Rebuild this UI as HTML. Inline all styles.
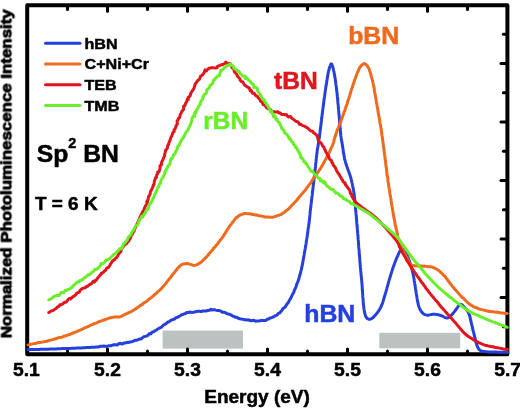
<!DOCTYPE html>
<html><head><meta charset="utf-8"><title>Photoluminescence spectra</title>
<style>
html,body{margin:0;padding:0;background:#fff;}
body{width:520px;height:408px;overflow:hidden;}
svg{display:block;}
text{font-family:"Liberation Sans",sans-serif;font-weight:bold;fill:#000;stroke:#000;stroke-width:0.5px;stroke-linejoin:round;}
</style></head><body>
<svg width="520" height="408" viewBox="0 0 520 408">
<defs><filter id="soft" x="-2%" y="-2%" width="104%" height="104%"><feGaussianBlur stdDeviation="0.4"/></filter></defs>
<rect x="0" y="0" width="520" height="408" fill="#fff"/>
<g filter="url(#soft)">
<rect x="162.6" y="330.6" width="80.4" height="18" fill="#bcc2c2"/>
<rect x="379.3" y="332.8" width="80.9" height="15.5" fill="#bcc2c2"/>
<rect x="27.2" y="5.2" width="480.2" height="349.1" fill="none" stroke="#000" stroke-width="4" stroke-linejoin="round"/>
<g stroke="#000" stroke-width="3" stroke-linecap="round"><line x1="27.5" y1="5.2" x2="27.5" y2="11.2"/><line x1="27.5" y1="354.3" x2="27.5" y2="349.1"/><line x1="107.5" y1="5.2" x2="107.5" y2="11.2"/><line x1="107.5" y1="354.3" x2="107.5" y2="349.1"/><line x1="187.5" y1="5.2" x2="187.5" y2="11.2"/><line x1="187.5" y1="354.3" x2="187.5" y2="349.1"/><line x1="267.5" y1="5.2" x2="267.5" y2="11.2"/><line x1="267.5" y1="354.3" x2="267.5" y2="349.1"/><line x1="347.5" y1="5.2" x2="347.5" y2="11.2"/><line x1="347.5" y1="354.3" x2="347.5" y2="349.1"/><line x1="427.5" y1="5.2" x2="427.5" y2="11.2"/><line x1="427.5" y1="354.3" x2="427.5" y2="349.1"/><line x1="507.5" y1="5.2" x2="507.5" y2="11.2"/><line x1="507.5" y1="354.3" x2="507.5" y2="349.1"/><line x1="67.5" y1="5.2" x2="67.5" y2="9.4"/><line x1="67.5" y1="354.3" x2="67.5" y2="350.90000000000003"/><line x1="147.5" y1="5.2" x2="147.5" y2="9.4"/><line x1="147.5" y1="354.3" x2="147.5" y2="350.90000000000003"/><line x1="227.5" y1="5.2" x2="227.5" y2="9.4"/><line x1="227.5" y1="354.3" x2="227.5" y2="350.90000000000003"/><line x1="307.5" y1="5.2" x2="307.5" y2="9.4"/><line x1="307.5" y1="354.3" x2="307.5" y2="350.90000000000003"/><line x1="387.5" y1="5.2" x2="387.5" y2="9.4"/><line x1="387.5" y1="354.3" x2="387.5" y2="350.90000000000003"/><line x1="467.5" y1="5.2" x2="467.5" y2="9.4"/><line x1="467.5" y1="354.3" x2="467.5" y2="350.90000000000003"/><line x1="507.4" y1="63.5" x2="501.0" y2="63.5"/><line x1="507.4" y1="122" x2="501.0" y2="122"/><line x1="507.4" y1="180.5" x2="501.0" y2="180.5"/><line x1="507.4" y1="239" x2="501.0" y2="239"/><line x1="507.4" y1="297.5" x2="501.0" y2="297.5"/><line x1="507.4" y1="34.2" x2="503.4" y2="34.2"/><line x1="507.4" y1="92.8" x2="503.4" y2="92.8"/><line x1="507.4" y1="151.2" x2="503.4" y2="151.2"/><line x1="507.4" y1="209.8" x2="503.4" y2="209.8"/><line x1="507.4" y1="268.2" x2="503.4" y2="268.2"/><line x1="507.4" y1="326.8" x2="503.4" y2="326.8"/></g>
<g>
<path d="M28.0 349.6L28.9 349.5L29.9 349.6L31.2 349.5L32.6 349.5L34.1 349.4L35.7 349.4L37.4 349.4L39.2 349.5L41.0 349.3L42.9 349.3L44.7 349.2L46.5 349.2L48.3 349.2L50.0 349.1L51.5 349.1L53.0 349.1L54.5 349.0L56.1 348.9L57.6 348.8L59.2 348.8L60.7 348.8L62.3 348.6L63.9 348.6L65.5 348.5L67.1 348.6L68.7 348.4L70.2 348.4L71.9 348.3L73.4 348.2L75.0 348.3L76.6 348.1L78.2 348.1L79.8 348.0L81.5 347.9L83.2 347.8L85.0 347.7L86.6 347.6L88.3 347.6L89.9 347.4L91.5 347.3L93.1 347.2L94.6 347.2L96.1 347.1L97.5 347.0L98.8 346.9L100.1 346.3L102.3 346.3L104.0 346.1L105.2 346.2L107.1 346.4L107.9 345.9L109.1 345.8L110.7 345.8L112.3 345.2L113.8 344.8L115.6 344.8L117.2 344.9L118.9 343.8L120.5 343.3L122.1 344.1L123.8 343.1L125.5 342.9L127.1 342.3L128.8 342.4L130.0 341.9L131.9 341.7L133.5 341.1L135.0 340.2L136.5 340.3L138.2 339.6L139.4 339.1L141.3 338.9L142.4 337.8L143.6 336.8L145.3 336.4L146.8 336.0L148.2 335.2L149.3 333.6L150.9 333.9L152.3 331.9L153.7 331.8L154.8 330.8L156.3 330.1L157.9 328.9L159.5 327.9L160.4 327.7L161.8 326.9L163.3 325.1L164.7 324.5L166.1 323.6L167.7 322.1L168.8 321.9L170.7 320.5L171.7 319.9L173.1 319.5L174.7 318.9L175.9 317.7L177.6 317.2L178.7 316.5L179.8 316.1L181.6 314.8L183.0 314.5L184.6 313.7L185.6 313.5L186.9 312.4L188.6 312.5L190.2 312.0L190.9 312.2L193.0 312.4L194.7 311.9L196.4 311.6L197.9 311.2L199.6 311.3L201.0 311.6L202.7 311.0L204.7 310.9L206.2 311.0L207.7 310.4L209.6 310.3L210.9 309.3L212.4 310.1L214.2 309.6L215.7 310.1L217.6 310.6L219.3 310.6L221.0 311.2L222.4 312.3L223.9 312.2L225.3 312.6L227.1 313.7L228.3 313.9L229.8 314.4L231.2 315.1L232.5 316.0L234.2 316.5L235.0 317.2L236.9 317.2L238.2 318.2L239.9 318.7L241.1 318.9L242.6 319.3L244.0 319.5L245.9 320.0L248.1 319.7L249.4 320.3L251.0 320.8L252.7 320.5L254.1 320.3L255.7 321.2L257.1 321.1L258.7 321.0L260.2 320.8L261.3 320.3L263.0 320.4L264.3 320.5L265.7 320.4L267.6 319.1L268.7 319.1L270.0 318.0L271.7 317.6L273.3 316.9L274.7 316.0L276.4 315.4L277.4 314.8L278.3 313.4L279.9 312.8L280.9 311.4L282.0 310.4L283.0 308.5L284.0 307.9L285.2 307.0L286.0 305.6L286.7 304.5L287.5 303.4L288.2 302.8L289.3 300.3L290.2 299.1L290.8 297.9L291.6 296.6L292.4 294.4L293.1 293.6L294.0 292.1L294.1 290.7L295.0 289.1L295.4 288.1L296.1 286.5L296.6 284.6L297.2 283.2L297.8 281.7L298.5 280.1L299.1 278.0L299.3 276.8L300.0 274.8L300.4 273.4L300.7 271.9L301.1 270.4L301.5 269.0L301.8 267.4L302.1 265.8L302.5 264.2L302.7 262.7L303.0 261.0L303.3 259.4L303.6 257.8L303.9 256.1L304.2 254.5L304.4 253.0L304.7 251.3L305.0 249.7L305.3 248.2L305.5 246.7L305.8 245.1L306.1 243.4L306.3 241.8L306.5 240.2L306.8 238.7L307.1 237.0L307.3 235.3L307.5 233.9L307.7 232.2L308.0 230.6L308.1 229.1L308.3 227.7L308.6 226.2L308.8 224.8L309.0 223.2L309.2 221.6L309.4 220.0L309.5 218.6L309.7 217.2L309.8 215.9L310.0 214.4L310.1 213.0L310.2 211.4L310.4 209.9L310.6 208.4L310.8 206.7L311.0 204.9L311.2 203.4L311.4 202.1L311.4 200.6L311.7 199.0L311.8 197.6L312.1 196.0L312.3 194.4L312.4 192.7L312.6 190.9L312.9 189.4L313.0 187.7L313.2 186.1L313.4 184.4L313.6 182.8L313.8 181.3L314.0 179.6L314.1 178.2L314.3 176.7L314.5 175.3L314.7 173.4L314.9 171.6L315.1 169.9L315.3 168.2L315.5 166.4L315.6 164.9L315.8 163.3L316.0 161.7L316.1 160.2L316.3 158.7L316.4 157.1L316.7 155.6L316.8 154.2L317.0 152.7L317.2 151.0L317.4 149.3L317.7 147.8L318.0 146.2L318.2 144.7L318.4 143.3L318.6 141.7L318.9 140.3L319.1 138.7L319.4 137.1L319.6 135.4L319.8 133.9L320.0 132.4L320.1 130.8L320.4 129.1L320.6 127.5L320.8 125.9L321.0 124.2L321.2 122.6L321.4 120.9L321.5 119.2L321.8 117.6L322.0 115.9L322.2 114.4L322.4 112.7L322.6 111.1L322.8 109.3L323.1 107.8L323.2 106.0L323.5 104.4L323.7 102.7L323.9 101.1L324.1 99.4L324.3 97.8L324.6 96.2L324.8 94.6L325.0 93.1L325.2 91.4L325.5 89.7L325.7 88.0L326.0 86.3L326.3 84.4L326.6 82.8L326.8 81.1L327.1 79.5L327.3 78.0L327.6 76.6L327.8 75.2L328.0 74.1L328.4 71.8L328.9 70.0L329.3 68.5L329.6 67.3L330.0 66.3L330.7 64.4L331.2 63.8L331.8 64.4L332.5 66.2L332.8 67.3L333.2 68.4L333.5 70.0L333.9 71.7L334.4 74.2L334.6 75.3L334.8 76.6L335.0 78.1L335.3 79.5L335.5 81.1L335.7 82.7L335.9 84.5L336.2 86.2L336.4 88.0L336.6 89.7L336.8 91.3L337.0 93.0L337.2 94.6L337.3 96.2L337.5 97.8L337.7 99.5L337.8 101.1L337.9 102.7L338.1 104.4L338.3 106.1L338.4 107.8L338.5 109.4L338.7 110.9L338.8 112.6L339.0 114.4L339.2 116.0L339.3 117.6L339.5 119.5L339.6 121.2L339.7 123.1L339.9 124.8L340.0 126.6L340.1 128.3L340.3 129.9L340.4 131.5L340.6 132.9L340.7 134.2L340.8 135.4L341.1 137.7L341.3 138.8L341.4 139.8L341.7 141.0L342.0 142.8L342.2 143.9L342.4 145.4L342.6 146.9L342.9 148.5L343.2 150.2L343.3 151.9L343.7 153.7L344.0 155.5L344.3 157.1L344.6 158.8L345.0 160.3L345.4 161.9L345.9 163.6L346.4 165.3L347.0 166.8L347.6 168.5L348.1 170.0L348.7 171.5L349.1 172.8L349.7 174.1L350.0 175.2L350.6 177.1L351.0 178.6L351.2 179.7L351.6 181.0L352.0 182.8L352.3 184.0L352.5 185.3L352.8 186.7L353.1 188.1L353.4 189.6L353.7 191.2L353.9 192.9L354.2 194.5L354.4 196.2L354.6 197.6L354.7 199.0L354.9 200.6L355.0 202.0L355.2 203.7L355.3 205.2L355.4 206.8L355.5 208.6L355.7 210.2L355.9 212.0L356.0 213.7L356.2 215.2L356.3 216.7L356.4 218.3L356.6 220.0L356.7 221.5L356.8 223.2L357.0 224.8L357.1 226.5L357.3 228.1L357.4 229.9L357.6 231.6L357.7 233.4L357.9 235.0L358.0 236.8L358.1 238.3L358.2 239.9L358.4 241.4L358.5 243.1L358.6 244.7L358.7 246.3L358.8 247.9L359.0 249.6L359.2 251.2L359.2 252.8L359.3 254.5L359.5 256.0L359.7 257.6L359.8 259.2L359.8 260.8L360.0 262.4L360.1 264.0L360.3 265.7L360.4 267.4L360.6 269.0L360.7 270.7L360.9 272.2L361.0 273.8L361.1 275.3L361.3 276.9L361.5 278.4L361.6 280.0L361.8 281.6L361.9 283.2L362.0 284.8L362.2 286.4L362.2 288.1L362.3 289.8L362.5 291.5L362.6 293.1L362.7 294.9L362.8 296.7L363.0 298.2L363.1 299.8L363.2 301.4L363.3 302.9L363.4 304.3L363.6 305.5L363.7 306.8L364.0 309.3L364.4 311.4L364.7 313.0L365.1 314.4L365.5 315.8L366.0 316.9L367.1 318.5L368.6 319.2L369.9 319.3L371.1 318.9L372.4 318.1L373.7 317.0L375.0 315.5L375.9 314.5L376.7 313.6L377.6 312.3L378.5 311.0L379.4 309.8L380.2 308.3L381.0 306.9L381.5 305.4L382.1 304.1L382.6 302.8L383.1 301.4L383.5 299.9L384.0 298.3L384.4 296.6L385.0 294.9L385.4 293.4L385.9 291.9L386.3 290.3L386.8 288.6L387.2 287.1L387.7 285.4L388.2 283.7L388.6 282.1L389.1 280.3L389.5 278.8L390.0 277.4L390.5 275.6L391.0 274.1L391.5 272.5L392.0 270.9L392.5 269.2L393.0 267.9L393.5 266.4L394.0 265.0L394.5 263.7L395.0 262.3L395.7 260.5L396.4 258.8L397.1 257.1L397.8 255.6L398.4 254.2L399.0 252.9L399.6 251.8L400.7 249.9L401.7 248.8L402.5 248.2L403.4 247.9L404.6 249.8L405.1 250.8L405.7 252.1L406.3 253.5L407.1 255.1L407.8 256.9L408.5 258.7L409.2 260.5L409.8 262.2L410.4 263.9L410.9 265.4L411.4 266.9L411.7 268.4L412.1 270.0L412.5 271.5L412.9 273.2L413.2 274.7L413.5 276.2L413.8 277.8L414.1 279.3L414.3 281.0L414.6 282.5L414.8 284.0L415.1 285.5L415.3 287.1L415.5 288.5L415.8 290.1L416.0 291.6L416.2 293.2L416.5 294.8L416.8 296.4L417.0 298.2L417.3 299.8L417.6 301.3L417.9 302.8L418.2 304.2L418.5 305.4L419.1 307.3L419.8 309.0L420.5 310.1L421.2 311.2L422.0 312.4L423.3 313.7L424.7 314.6L426.5 315.0L427.9 315.2L429.5 314.9L431.3 314.6L433.0 314.3L434.6 314.2L436.4 314.4L438.2 314.7L439.9 315.3L441.5 315.7L443.1 316.5L444.5 317.3L445.9 317.8L447.4 318.1L448.5 317.7L449.8 316.9L450.9 315.8L452.0 314.6L452.9 313.5L453.8 312.4L454.8 311.1L455.6 310.0L456.5 308.8L457.6 307.3L458.5 305.9L459.4 304.8L460.5 304.3L461.8 304.7L463.2 305.9L464.6 307.5L465.8 308.7L466.8 310.1L467.7 311.4L468.5 312.9L469.2 314.6L469.7 315.8L470.1 317.4L470.4 319.0L470.8 320.5L471.1 322.2L471.5 323.8L471.8 325.3L472.3 326.7L472.5 328.1L472.9 329.6L473.3 331.4L473.8 333.1L474.1 334.5L474.5 336.0L474.9 337.7L475.3 339.4L475.7 341.1L476.1 342.8L476.6 344.3L477.0 345.7L477.5 346.8L478.5 348.7L479.4 349.8L480.7 350.7L482.5 351.2L483.7 351.4L485.1 351.6L486.6 351.7L488.3 351.9L490.0 351.9L491.7 351.9L493.4 352.0L495.0 352.1L496.6 352.1L498.4 352.2L500.2 352.2L502.0 352.3L503.7 352.3L505.3 352.3L506.5 352.3L507.5 352.4" fill="none" stroke="#2540dc" stroke-width="3.0" stroke-linejoin="round" stroke-linecap="round"/>
<path d="M28.0 344.9L28.9 344.7L30.1 344.3L31.3 344.2L32.7 343.9L34.3 343.6L35.9 343.4L37.7 342.6L39.6 342.6L41.3 342.3L43.2 341.9L45.0 341.5L46.7 341.2L48.3 340.7L50.0 340.3L51.6 339.9L53.0 339.4L54.8 339.0L56.5 338.5L57.9 337.9L59.5 337.5L60.9 337.5L62.6 336.8L64.1 336.1L65.5 335.9L66.9 335.3L68.4 334.8L69.9 334.5L71.6 333.6L73.0 333.0L74.7 332.3L76.2 331.9L77.7 331.1L79.3 330.5L80.7 329.8L82.2 329.2L83.4 328.6L84.8 327.8L86.2 327.4L87.3 326.8L89.1 326.1L90.7 325.2L92.1 324.7L93.4 324.1L94.7 323.4L96.1 323.2L97.4 322.5L98.7 321.8L100.0 321.5L101.4 320.8L103.1 320.2L104.7 319.7L106.3 319.2L107.7 318.6L109.1 318.1L110.4 317.7L111.7 317.6L113.6 317.1L115.3 317.0L116.9 317.1L118.3 316.9L119.8 316.9L121.5 316.3L123.0 315.4L124.5 314.7L126.1 313.9L127.3 313.4L128.8 312.6L130.4 312.0L131.9 311.2L133.2 310.3L134.6 309.6L135.9 308.7L137.1 307.8L138.5 306.9L140.0 305.8L141.1 305.1L142.3 304.4L143.2 303.4L144.9 302.4L145.9 301.8L147.2 300.9L148.5 299.5L150.0 298.5L151.0 297.8L152.2 296.8L153.3 295.8L154.5 294.7L155.7 293.8L156.9 292.8L158.0 291.6L159.2 290.7L160.4 289.7L161.6 288.3L162.4 287.4L163.6 286.1L164.6 284.9L165.8 283.6L166.8 282.1L167.7 280.9L168.8 279.5L169.8 278.3L170.8 277.1L171.7 276.0L172.6 274.6L173.8 273.3L174.8 271.9L176.0 270.5L177.1 269.0L177.9 268.0L179.1 266.8L180.0 265.9L181.5 264.8L182.9 263.9L184.4 263.7L186.1 263.7L187.2 263.4L188.8 264.0L190.3 264.4L192.0 264.9L193.5 265.4L195.0 265.2L196.5 264.9L198.1 264.2L199.5 263.3L200.8 262.3L202.4 260.8L203.4 260.0L204.6 258.7L205.7 257.6L206.6 256.8L208.0 255.2L209.1 253.8L210.4 252.3L211.4 251.1L212.5 249.9L213.5 248.4L214.5 247.4L215.6 246.2L216.7 244.8L217.7 243.7L218.7 242.2L219.7 240.9L220.6 239.6L221.7 238.5L222.5 237.3L223.4 236.0L224.2 234.5L225.2 233.4L225.9 232.0L226.8 230.4L227.6 229.3L228.4 228.1L229.2 226.8L230.0 225.6L231.1 224.5L232.1 223.0L233.3 221.4L234.4 220.1L235.3 218.6L236.4 217.6L237.7 216.8L239.0 215.6L240.6 214.8L242.1 214.4L243.5 213.8L245.0 213.4L246.5 213.6L248.1 213.7L249.4 213.8L250.9 214.0L252.6 214.6L254.0 214.6L255.2 214.9L256.8 215.0L258.2 215.5L260.0 215.9L261.5 216.1L263.3 216.5L264.9 217.0L266.6 217.0L268.2 217.1L270.0 217.3L271.7 217.2L273.4 216.9L275.2 216.5L276.9 215.9L278.4 215.4L279.9 214.9L281.4 214.3L282.7 213.3L284.1 212.4L285.3 211.5L286.3 210.5L287.5 209.7L288.8 208.7L289.6 207.8L290.6 206.7L292.5 204.6L293.3 204.0L294.1 202.9L295.1 202.1L296.3 200.8L297.3 199.5L298.4 198.1L299.5 196.8L300.7 195.5L302.0 193.9L302.9 192.8L304.1 191.5L305.0 190.4L306.0 189.2L306.9 187.8L308.0 186.4L308.9 185.1L309.7 184.1L310.6 183.0L311.6 181.5L312.4 180.0L313.3 178.8L314.3 177.6L315.0 176.2L315.9 175.4L316.8 173.8L317.7 172.6L318.7 171.2L319.3 169.9L320.4 168.9L321.2 167.2L322.0 165.9L323.0 164.2L323.8 162.7L324.4 161.4L325.3 159.9L326.1 158.7L326.9 157.0L327.7 155.4L328.5 153.9L329.3 152.4L330.0 150.8L330.7 149.3L331.3 147.8L331.9 146.7L332.5 145.3L333.3 143.2L333.8 141.6L334.0 140.3L334.4 139.1L334.8 137.3L335.6 135.4L335.9 134.1L336.4 132.9L336.9 131.1L337.4 129.6L338.3 128.1L338.8 126.5L339.4 124.8L340.3 123.4L340.8 121.7L341.2 119.7L341.9 118.5L342.4 116.9L343.0 115.5L343.5 114.1L343.9 112.5L344.6 111.1L345.1 109.8L345.5 108.4L345.9 106.8L346.5 105.4L347.1 104.1L347.5 102.2L347.9 100.6L348.5 99.4L349.0 97.7L349.5 96.2L350.0 94.5L350.4 93.0L351.0 91.1L351.4 89.6L351.9 88.2L352.5 86.9L352.9 85.1L353.5 83.6L354.0 82.0L354.5 80.4L355.2 78.6L355.7 77.2L356.3 75.4L356.8 74.5L357.2 72.9L357.8 72.0L358.7 69.9L359.4 68.1L360.2 66.9L361.0 65.9L362.7 64.5L364.1 63.6L365.3 64.0L366.6 65.2L367.4 66.0L368.3 67.6L369.2 69.0L369.4 70.2L370.0 71.8L370.4 73.0L370.9 74.6L371.2 76.4L371.7 77.5L372.0 78.9L372.4 80.2L372.8 81.7L373.1 83.6L373.5 85.7L373.9 86.8L374.1 88.0L374.3 89.5L374.5 91.2L374.8 92.7L375.2 94.5L375.4 96.1L375.6 97.6L376.0 99.4L376.2 100.8L376.4 102.3L376.8 103.7L377.0 105.7L377.3 107.2L377.7 108.9L377.9 110.6L378.1 112.1L378.4 113.5L378.7 115.2L379.0 116.8L379.3 118.5L379.6 120.1L379.8 121.4L379.9 122.7L380.2 124.1L380.6 125.5L380.8 127.3L381.2 128.7L381.3 130.5L381.6 131.8L381.7 133.5L382.0 135.5L382.3 136.9L382.5 138.4L382.6 139.9L382.9 141.4L383.0 143.0L383.3 144.7L383.4 146.2L383.8 148.0L383.9 149.5L384.1 151.1L384.3 152.9L384.5 154.5L384.8 156.0L385.0 157.6L385.2 159.5L385.4 161.1L385.7 162.9L385.8 164.5L386.0 166.1L386.4 168.1L386.6 169.8L386.7 171.5L386.9 173.3L387.0 174.8L387.4 176.4L387.7 177.8L387.9 179.5L387.9 181.0L388.2 182.5L388.6 184.3L388.8 186.0L388.9 187.7L389.3 189.0L389.6 190.4L389.7 191.8L389.8 193.2L390.1 194.7L390.4 196.1L390.7 197.8L391.0 199.2L391.1 200.7L391.4 202.4L391.6 204.1L391.9 205.4L392.1 207.0L392.4 208.5L392.6 210.1L393.0 211.6L393.1 213.1L393.4 214.6L393.7 216.2L393.9 217.9L394.4 219.4L394.6 220.9L395.0 222.3L395.1 223.9L395.3 225.5L395.8 226.6L396.2 228.6L396.5 230.1L396.9 231.7L397.2 233.3L397.4 234.9L397.7 236.5L398.0 237.9L398.4 239.4L398.8 240.3L399.2 242.4L399.6 243.9L400.2 244.9L400.9 246.7L401.6 248.1L402.1 249.4L402.8 250.6L403.7 252.0L404.4 253.6L405.4 254.9L406.0 256.4L406.9 257.5L407.5 258.8L408.3 260.4L408.7 262.0L409.6 263.1L410.2 264.0L411.5 264.9L412.8 265.3L414.3 265.8L415.9 265.7L417.5 265.9L419.5 265.8L421.4 266.0L422.9 266.3L424.7 266.1L426.3 266.4L428.1 266.7L429.8 266.8L431.5 267.0L433.0 267.3L434.7 268.2L436.0 268.8L437.3 269.5L438.8 270.5L440.0 271.7L441.3 272.8L442.5 274.0L443.8 275.5L445.0 276.3L445.9 277.6L446.8 279.0L447.9 280.3L448.9 281.9L449.8 283.0L450.9 284.4L451.9 285.7L453.0 287.2L454.1 288.2L455.1 289.6L456.1 290.5L457.1 291.7L458.2 292.8L459.2 294.1L460.2 295.3L461.2 296.3L462.3 297.5L463.6 298.3L464.5 299.4L465.7 300.7L466.8 301.7L468.0 302.8L469.1 303.7L470.1 304.7L471.6 305.4L472.8 306.3L474.1 306.9L475.6 307.5L477.0 307.8L478.2 308.7L479.9 309.1L481.4 309.6L483.0 309.9L484.5 310.3L486.2 310.7L487.6 311.1L489.3 311.4L490.8 311.5L492.6 311.7L494.1 311.8L495.6 312.3L496.9 312.1L499.0 312.4L501.2 313.1L503.1 313.1L504.9 313.4L506.1 313.4L507.3 313.5" fill="none" stroke="#ee6a1c" stroke-width="3.0" stroke-linejoin="round" stroke-linecap="round"/>
<path d="M48.7 312.5L49.3 312.5L50.8 311.1L53.0 310.5L54.0 309.9L56.1 308.4L57.6 306.9L58.9 306.3L59.9 304.8L61.1 304.7L63.0 303.8L64.4 302.3L65.7 302.3L67.3 300.8L68.2 299.3L69.4 298.3L70.4 299.1L71.4 298.0L73.4 296.4L74.6 295.8L76.0 294.4L76.7 293.2L78.0 292.5L79.2 292.3L80.1 290.3L81.7 288.9L84.0 287.9L84.7 288.1L86.7 286.4L87.8 286.2L88.7 285.3L90.2 284.2L91.3 283.9L93.2 281.4L94.4 282.1L94.9 280.7L96.2 280.3L97.6 278.1L98.7 276.9L99.9 275.3L101.8 273.6L101.1 273.4L103.4 272.4L104.5 270.9L105.8 270.2L106.7 268.2L108.6 267.4L108.7 267.2L110.3 264.5L110.8 263.6L112.1 261.6L113.0 260.6L114.8 259.5L115.0 258.8L116.5 257.6L117.9 255.7L118.4 254.5L119.1 253.4L120.9 251.7L121.3 250.0L122.1 248.2L123.2 246.8L124.0 245.1L125.1 244.8L125.7 242.3L126.8 243.5L127.3 242.0L128.4 241.4L129.7 239.1L130.4 238.1L131.1 236.3L131.3 234.7L132.4 234.1L133.3 231.8L134.1 231.1L134.7 228.7L135.4 227.7L136.5 225.0L137.3 223.5L137.7 222.8L139.0 220.0L139.5 219.1L140.0 217.2L141.1 214.8L141.6 214.9L142.2 212.6L142.6 211.8L143.9 210.2L144.4 208.2L144.5 208.4L144.9 207.2L146.2 204.6L147.2 203.8L147.6 201.4L146.6 201.8L148.1 199.6L148.4 197.2L148.8 196.1L149.5 195.6L150.2 193.6L150.5 191.6L151.4 190.0L152.3 188.1L153.1 186.4L153.3 185.1L154.1 184.2L154.1 183.2L154.5 180.5L154.7 180.1L155.7 177.5L156.5 177.5L156.6 175.2L157.6 173.9L157.7 172.0L159.1 171.7L159.9 168.9L160.0 167.7L160.0 165.6L161.2 165.2L161.4 164.3L161.6 162.4L162.4 160.7L163.1 159.3L163.5 157.9L164.5 156.1L164.7 155.1L164.8 153.7L165.2 152.4L165.7 150.0L166.7 149.3L167.4 147.9L167.7 145.5L168.5 144.7L168.6 143.7L169.6 141.2L170.3 139.5L170.5 139.0L170.9 137.4L171.6 136.2L172.4 134.4L172.8 132.6L174.2 131.6L173.9 130.3L175.4 128.1L176.1 126.1L176.2 125.7L177.3 124.2L177.1 120.9L178.2 119.6L178.6 118.1L179.6 117.7L180.0 115.8L180.4 114.3L181.1 113.2L181.9 111.2L183.1 110.1L183.6 109.2L183.6 106.1L185.0 105.5L185.3 104.2L186.1 102.4L186.7 101.6L187.3 99.3L188.3 99.5L188.2 97.3L189.5 96.6L190.2 95.6L190.9 92.9L191.4 92.4L192.1 91.1L193.4 89.6L194.1 87.7L194.6 86.0L195.3 83.9L196.2 82.7L196.8 81.8L198.3 80.0L199.5 79.3L200.3 77.1L200.3 76.5L202.1 75.1L203.2 74.1L204.2 72.5L205.1 69.8L206.4 71.0L207.1 69.9L208.9 68.3L210.5 68.1L211.5 67.7L213.4 67.8L214.4 67.9L217.0 67.8L217.7 66.1L219.2 65.8L221.7 64.5L222.5 64.7L224.7 63.5L225.9 62.1L227.1 63.6L228.6 64.8L229.3 63.3L230.9 65.3L232.1 67.4L232.9 68.8L234.0 68.3L234.3 71.7L235.0 72.6L235.9 73.3L237.3 75.5L237.6 76.7L238.2 77.0L239.9 78.7L240.2 80.1L241.7 81.7L242.9 82.0L243.4 83.1L244.5 85.1L246.3 86.3L247.0 86.6L248.3 87.6L249.3 88.0L250.2 90.9L251.2 90.4L252.6 93.3L254.3 93.3L254.8 94.5L255.9 95.7L257.2 96.1L258.3 98.0L259.2 98.6L260.8 101.5L261.4 101.4L262.6 102.7L263.2 104.8L264.1 104.8L265.2 105.7L266.7 107.8L268.6 109.0L269.6 109.0L270.9 110.1L272.3 111.8L274.1 111.7L275.5 112.1L277.5 111.7L279.0 113.1L280.0 112.8L281.6 114.4L283.6 114.4L284.9 114.9L286.3 114.5L287.7 116.3L288.5 117.1L290.5 116.4L291.5 117.8L292.8 119.0L293.7 119.5L295.4 121.0L296.5 121.6L297.9 121.7L299.1 123.6L299.6 124.4L300.8 124.3L302.6 125.6L304.3 126.1L305.1 126.6L307.6 128.0L307.9 128.2L309.0 129.4L310.7 130.9L312.2 131.2L312.8 131.6L313.5 132.6L315.5 134.2L316.4 134.8L317.4 136.9L317.9 138.3L317.9 139.1L319.1 141.9L320.1 142.1L321.2 143.2L322.2 144.8L322.5 146.0L323.7 146.8L324.5 149.0L325.2 150.2L326.1 152.4L327.1 153.9L328.0 155.7L328.6 155.9L329.2 158.4L330.3 159.9L331.2 160.1L332.2 163.1L332.6 162.9L333.2 165.2L334.0 165.9L335.2 167.5L335.8 168.5L336.3 170.2L337.4 171.9L338.1 173.3L339.3 174.6L340.2 176.6L341.0 177.5L341.5 179.0L342.6 180.0L343.1 181.7L345.2 183.1L345.2 184.3L345.8 185.2L346.6 185.9L347.7 187.7L348.6 188.7L349.3 189.7L350.1 191.4L350.5 193.5L351.3 193.8L351.8 196.2L352.5 197.3L353.4 199.0L354.4 200.5L355.4 201.8L356.5 202.9L357.5 203.8L358.7 204.9L360.0 205.7L361.3 206.9L362.6 207.9L363.9 208.7L365.2 209.8L366.5 210.6L367.7 211.6L368.8 212.3L370.2 213.3L371.5 214.3L372.8 215.3L373.9 216.3L375.1 217.1L376.2 218.2L377.3 219.1L378.5 220.2L379.5 221.3L380.6 222.4L381.6 223.5L382.7 224.6L383.8 226.0L384.8 226.8L385.9 228.1L387.0 229.3L388.0 230.7L389.2 231.9L390.3 233.2L391.5 234.6L392.8 236.1L393.9 237.5L395.0 238.9L396.0 240.1L397.0 241.5L397.7 242.4L398.6 243.9L398.8 244.7L399.1 245.8L400.0 247.8L400.6 248.8L401.3 250.1L402.0 251.6L402.8 253.0L403.6 254.6L404.4 256.0L405.4 257.5L406.3 259.4L407.2 260.9L408.2 262.3L409.0 263.7L409.8 265.1L410.7 266.5L411.5 267.9L412.5 269.1L413.3 270.3L414.1 271.6L415.1 273.0L416.0 274.1L416.8 275.4L417.7 276.6L418.6 277.7L419.5 279.0L420.3 280.3L421.2 281.7L422.3 282.9L423.2 284.2L424.0 285.4L425.1 286.7L425.8 288.2L426.8 289.2L427.7 290.3L428.7 291.7L429.8 293.1L430.8 294.4L431.8 295.7L432.9 296.8L434.0 298.2L434.9 299.4L436.0 300.7L437.0 301.6L438.1 303.0L439.0 304.2L440.0 305.5L440.9 306.5L441.9 307.8L443.0 308.9L444.0 309.9L445.0 311.2L446.0 312.3L447.1 313.5L448.0 314.6L449.1 315.8L450.1 316.8L451.3 318.1L452.3 319.3L453.3 320.4L454.3 321.6L455.5 322.8L456.5 324.1L457.5 325.4L458.5 326.6L459.7 327.9L460.6 329.1L461.8 330.3L462.8 331.7L463.9 332.6L464.9 333.8L466.2 334.8L467.5 335.9L468.7 336.6L470.0 337.6L471.2 338.2L472.5 339.1L473.7 339.9L475.0 340.6L476.3 341.1L477.7 342.1L479.1 342.9L480.6 343.3L482.0 344.0L483.4 344.7L484.9 345.2L486.5 345.4L488.0 345.9L489.6 346.2L491.2 346.6L492.9 346.8L494.6 347.3L496.0 347.6L497.6 347.7L499.4 348.1L501.4 348.5L503.2 348.9L505.0 349.2L506.6 349.3L507.5 349.5" fill="none" stroke="#e0141e" stroke-width="3.0" stroke-linejoin="round" stroke-linecap="round"/>
<path d="M48.7 299.8L49.5 299.5L51.2 298.8L52.9 297.3L54.0 296.5L55.5 295.9L57.5 295.3L59.2 295.5L60.8 292.7L62.2 292.5L63.5 292.8L65.2 290.3L66.9 290.5L67.9 289.4L69.4 289.1L70.8 288.2L72.6 286.8L72.8 286.1L74.4 284.8L75.7 283.5L76.2 283.1L77.3 281.9L79.0 281.9L80.1 280.5L81.8 280.0L82.6 279.6L83.8 278.1L85.8 277.0L86.8 276.2L88.0 274.8L89.1 274.9L90.6 273.8L92.2 272.0L93.6 271.2L94.8 269.3L96.1 269.4L97.6 268.4L99.2 267.1L100.7 265.0L101.2 263.4L102.8 263.8L104.4 262.6L104.5 262.5L106.0 260.1L107.6 260.1L108.8 258.9L109.5 258.7L111.3 256.9L112.7 255.9L113.8 254.2L114.9 253.8L116.5 252.4L117.3 251.6L118.6 250.4L119.4 248.9L120.9 248.3L121.5 248.9L122.8 246.3L123.6 243.9L124.9 243.2L125.4 242.5L126.6 240.7L127.1 240.4L128.2 237.3L129.2 236.5L130.0 235.2L130.9 234.7L131.7 232.5L132.9 230.7L133.8 229.6L134.8 227.8L135.5 226.0L136.1 225.4L137.4 225.1L138.8 221.8L138.8 221.9L140.1 219.0L141.1 217.8L141.6 216.4L142.7 217.0L143.9 214.3L145.5 212.8L145.6 211.5L146.7 210.2L147.9 208.8L148.5 207.7L148.9 205.7L150.0 203.5L150.8 203.4L151.5 201.9L152.3 200.4L153.1 198.3L153.8 197.3L154.3 196.0L154.7 194.4L155.9 192.8L155.7 192.0L156.9 190.4L157.2 188.4L158.4 186.9L158.9 186.5L159.4 184.0L160.7 183.3L160.7 181.6L161.0 180.2L162.1 178.5L162.7 178.1L163.5 175.9L164.3 175.1L165.0 172.7L164.7 172.1L166.0 170.1L166.9 168.5L167.3 168.2L167.8 166.1L169.4 165.1L170.0 162.8L170.4 161.0L170.8 159.2L172.3 158.0L172.9 157.2L173.2 155.3L174.3 154.0L175.0 153.9L175.5 151.8L177.1 149.5L177.1 147.6L177.6 148.3L177.8 146.2L178.9 145.7L180.1 142.4L180.5 142.0L181.5 140.1L182.1 139.0L183.2 138.1L184.0 136.2L185.0 134.8L185.3 133.4L186.3 132.0L186.6 131.5L188.2 130.0L188.6 128.3L189.5 126.4L190.7 124.5L191.0 122.4L191.7 121.7L191.8 120.0L192.1 118.2L193.5 115.8L194.5 116.3L194.6 113.5L195.0 112.2L195.9 112.6L196.5 110.4L198.0 108.0L198.2 107.5L198.7 106.4L200.3 104.3L200.0 103.3L201.1 101.3L201.6 100.4L202.6 99.5L203.0 96.6L203.4 96.8L204.5 94.1L206.2 93.5L206.9 91.4L206.7 89.8L207.9 89.0L208.8 88.6L210.1 85.4L210.7 85.0L211.4 84.6L212.9 82.9L213.4 80.2L214.8 79.5L215.4 78.3L216.7 77.2L217.5 76.2L219.6 75.5L219.4 74.8L220.4 71.8L221.0 70.5L223.1 69.6L223.5 68.6L225.1 67.0L226.1 66.7L227.5 65.3L229.3 64.5L231.0 63.9L231.4 65.5L233.1 65.9L233.8 68.2L236.1 69.5L237.2 70.4L237.6 71.4L239.1 71.3L240.0 73.8L240.6 74.2L242.5 75.9L244.0 75.9L245.3 76.2L245.3 78.5L247.1 78.1L248.4 80.2L249.4 80.6L249.8 80.9L251.1 82.8L252.0 83.6L253.5 84.5L254.0 87.4L255.0 87.2L256.6 87.8L257.6 89.3L257.6 90.5L258.4 92.2L259.9 93.9L260.9 95.7L260.9 96.6L261.9 97.7L263.0 99.5L264.0 99.4L264.7 101.6L266.2 103.0L266.5 104.5L267.6 105.1L268.2 106.9L269.1 108.2L269.8 109.6L270.4 111.8L271.7 111.2L272.5 114.0L273.4 114.7L273.6 116.9L275.3 116.3L276.0 119.5L277.1 119.2L277.7 121.4L279.4 122.8L279.8 123.8L280.4 124.7L280.8 125.8L281.9 128.6L282.9 129.8L284.1 130.5L284.6 133.0L286.2 133.9L287.8 135.5L288.1 136.3L289.2 138.6L289.6 137.6L290.6 139.8L291.7 141.8L293.0 142.3L293.7 144.6L295.7 146.6L295.5 147.3L295.9 146.8L297.6 149.6L298.1 151.3L299.2 152.2L299.6 153.9L300.6 155.1L300.8 157.9L301.8 157.7L303.1 159.3L303.9 161.9L305.1 161.8L305.7 163.4L307.0 164.3L307.2 165.1L308.7 167.5L309.7 168.9L310.0 169.4L311.0 171.4L312.6 171.0L313.7 173.2L314.8 174.7L315.8 175.2L317.1 176.1L318.2 178.1L320.0 178.4L320.5 180.9L322.2 180.8L323.6 182.8L324.5 181.6L325.7 184.0L326.8 186.0L328.1 186.5L329.3 187.8L330.6 188.9L332.1 189.5L333.5 189.6L334.6 191.6L336.0 193.2L337.7 193.1L339.1 194.4L340.2 196.1L341.1 196.0L342.8 197.2L343.6 198.7L345.6 199.3L347.0 200.5L348.0 201.1L349.5 201.5L350.7 203.4L352.2 203.5L353.7 204.4L355.1 205.4L356.4 206.1L357.8 206.9L359.2 207.8L360.6 208.5L362.0 209.4L363.3 210.1L364.8 211.0L366.1 211.7L367.5 212.5L368.8 213.4L370.0 214.4L371.1 215.3L372.5 216.3L373.6 217.4L375.0 218.2L376.1 219.3L377.4 220.2L378.6 221.1L379.7 222.2L380.9 223.1L382.1 224.0L383.3 224.8L384.4 225.8L385.7 226.7L386.8 227.8L388.0 228.8L389.2 229.9L390.6 231.1L391.9 232.1L393.2 233.4L394.6 234.6L395.8 235.7L396.9 236.7L397.7 237.6L398.7 238.6L398.9 239.0L400.1 240.9L400.7 241.8L401.3 242.7L402.2 244.0L403.2 245.2L404.1 246.7L405.2 248.1L406.2 249.6L407.3 251.1L408.4 252.6L409.5 254.1L410.5 255.3L411.5 256.8L412.5 258.2L413.6 259.6L414.6 260.9L415.7 262.2L416.7 263.3L417.8 264.5L418.8 266.0L419.9 267.2L420.9 268.4L422.1 269.6L423.1 270.8L424.0 272.0L425.1 273.4L426.1 274.5L427.1 275.7L428.3 276.8L429.3 277.9L430.4 279.1L431.5 280.2L432.5 281.2L433.6 282.4L434.6 283.6L435.8 284.6L436.9 285.6L437.9 286.8L439.1 287.9L440.3 288.9L441.4 289.9L442.6 290.9L443.7 291.9L444.8 292.7L446.0 293.8L447.2 294.7L448.5 296.1L450.0 297.1L451.3 297.9L452.5 299.0L453.7 300.2L455.2 301.1L456.3 302.0L457.7 303.2L459.1 304.1L460.2 304.9L461.5 306.0L462.6 306.9L463.9 307.9L465.1 308.8L466.5 309.7L467.8 310.4L469.0 311.1L470.5 312.0L472.0 312.9L473.4 313.6L474.8 314.2L476.5 314.8L477.9 315.3L479.4 316.1L480.8 316.9L482.2 317.3L483.7 318.0L485.0 318.6L486.3 319.2L487.7 319.7L489.3 320.4L490.7 320.9L492.4 321.6L493.7 322.1L495.4 322.6L497.0 323.4L498.8 324.1L500.4 324.8L502.2 325.3L503.8 326.0L505.2 326.5L506.4 327.0L507.3 327.3" fill="none" stroke="#6aee2a" stroke-width="3.0" stroke-linejoin="round" stroke-linecap="round"/>
</g>
<g><text transform="translate(26.4,376) scale(1.07,1)" text-anchor="middle" font-size="18">5.1</text><text transform="translate(107.5,376) scale(1.07,1)" text-anchor="middle" font-size="18">5.2</text><text transform="translate(187.5,376) scale(1.07,1)" text-anchor="middle" font-size="18">5.3</text><text transform="translate(267.5,376) scale(1.07,1)" text-anchor="middle" font-size="18">5.4</text><text transform="translate(347.5,376) scale(1.07,1)" text-anchor="middle" font-size="18">5.5</text><text transform="translate(427.5,376) scale(1.07,1)" text-anchor="middle" font-size="18">5.6</text><text transform="translate(507.7,376) scale(1.07,1)" text-anchor="middle" font-size="18">5.7</text></g>
<text transform="translate(257,403.2) scale(1.08,1)" text-anchor="middle" font-size="17.6">Energy (eV)</text>
<text transform="translate(11.3,338.3) rotate(-90) scale(1.185,1)" font-size="14.25" style="stroke-width:0.8px">Normalized Photoluminescence Intensity</text>
<g><line x1="45.5" y1="43.3" x2="80" y2="43.3" stroke="#2540dc" stroke-width="3" stroke-linecap="round"/><text transform="translate(84.5,48.5) scale(1.04,1)" font-size="15.5">hBN</text><line x1="45.5" y1="64.0" x2="80" y2="64.0" stroke="#ee6a1c" stroke-width="3" stroke-linecap="round"/><text transform="translate(84.5,69.2) scale(1.04,1)" font-size="15.5">C+Ni+Cr</text><line x1="45.5" y1="84.7" x2="80" y2="84.7" stroke="#e0141e" stroke-width="3" stroke-linecap="round"/><text transform="translate(84.5,89.9) scale(1.04,1)" font-size="15.5">TEB</text><line x1="45.5" y1="105.4" x2="80" y2="105.4" stroke="#6aee2a" stroke-width="3" stroke-linecap="round"/><text transform="translate(84.5,110.6) scale(1.04,1)" font-size="15.5">TMB</text></g>
<text transform="translate(36.7,162) scale(1.03,1)" font-size="24">Sp<tspan font-size="14" dy="-13.8">2</tspan><tspan dy="13.8"> BN</tspan></text>
<text transform="translate(35,209.5) scale(1.07,1)" font-size="17.7">T = 6 K</text>
<text transform="translate(203.3,128.5) scale(1.06,1)" font-size="23" style="fill:#6aee2a;stroke:#6aee2a">rBN</text>
<text transform="translate(274,89.1) scale(1.07,1)" font-size="23" style="fill:#e0141e;stroke:#e0141e">tBN</text>
<text transform="translate(348.2,44.3) scale(1.08,1)" font-size="23" style="fill:#ee6a1c;stroke:#ee6a1c">bBN</text>
<text transform="translate(304.3,322.3) scale(1.065,1)" font-size="23.3" style="fill:#2540dc;stroke:#2540dc">hBN</text>
</g>
</svg>
</body></html>
